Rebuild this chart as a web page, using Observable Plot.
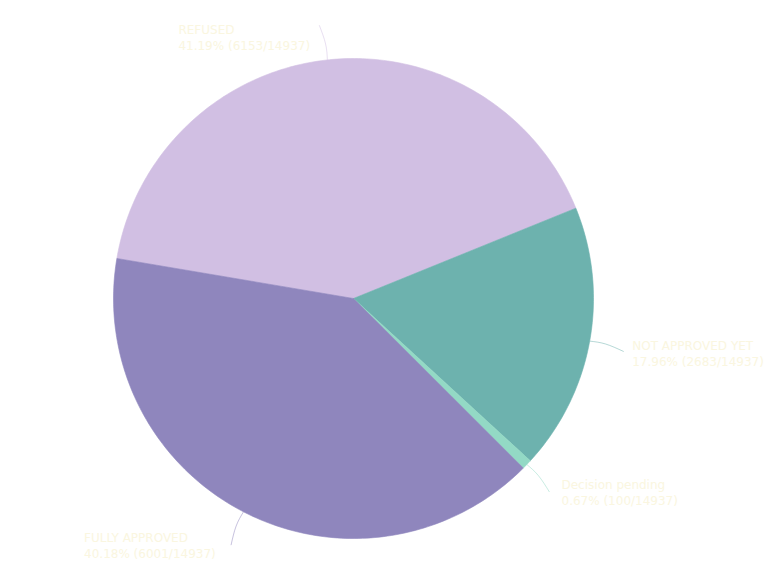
<!DOCTYPE html>
<html><head><meta charset="utf-8">
<script src="https://cdn.jsdelivr.net/npm/d3@7"></script>
<script src="https://cdn.jsdelivr.net/npm/@observablehq/plot@0.6"></script>
<style>body{margin:0;background:#fff}</style></head>
<body><div id="chart"></div>
<script>
// Data (label text is nearly invisible in the reference, so it is estimated)
const categories = ["REFUSED", "NOT APPROVED YET", "Decision pending", "FULLY APPROVED"];
const counts = [6153, 2683, 100, 6001];
const colors = ["#d1bfe3", "#6db2ae", "#93d9c5", "#8f86bd"];
const startDeg = -80.4;

const W = 768, H = 566, cx = 353, cy = 298, R = 240;
const FONT = "12px 'DejaVu Sans'";
const total = d3.sum(counts);
const a0 = startDeg * Math.PI / 180;
const arcs = d3.pie().sort(null).startAngle(a0).endAngle(a0 + 2 * Math.PI)(counts);

const slicePts = [];
arcs.forEach((a, i) => {
  const n = Math.max(2, Math.ceil((a.endAngle - a.startAngle) * 180 / Math.PI));
  slicePts.push({cat: categories[i], x: 0, y: 0});
  for (let k = 0; k <= n; k++) {
    const t = a.startAngle + (a.endAngle - a.startAngle) * k / n;
    slicePts.push({cat: categories[i], x: R * Math.sin(t), y: -R * Math.cos(t)});
  }
  slicePts.push({cat: categories[i], x: 0, y: 0});
});

const ctx = document.createElement("canvas").getContext("2d");
ctx.font = FONT;
const leaders = [], labels = [];
arcs.forEach((a, i) => {
  const m = (a.startAngle + a.endAngle) / 2;
  const s = Math.sin(m);
  const bend = s >= 0 ? 0.015 : -0.015;
  [R, R + 16, R + 35].forEach((r, k) => {
    const t = m + (k === 2 ? bend : 0);
    leaders.push({cat: categories[i], x: r * Math.sin(t), y: -r * Math.cos(t)});
  });
  const ex = (R + 30) * Math.sin(m), ey = -(R + 30) * Math.cos(m);
  const pct = (counts[i] / total * 100).toFixed(2);
  const text = categories[i] + "\n" + pct + "% (" + counts[i] + "/" + total + ")";
  const w = Math.max(...text.split("\n").map(t => ctx.measureText(t).width));
  labels.push({text, x: s >= 0 ? ex + 13 : ex - w - 14, y: ey});
});

const chart = Plot.plot({
  width: W, height: H, margin: 0,
  x: {domain: [-cx, W - cx], range: [0, W], axis: null},
  y: {domain: [-cy, H - cy], range: [0, H], axis: null},
  color: {domain: categories, range: colors},
  style: {fontFamily: "'DejaVu Sans', sans-serif", background: "#fff"},
  marks: [
    Plot.line(slicePts, {x: "x", y: "y", z: "cat", fill: "cat", stroke: "cat", strokeWidth: 0.6, curve: "linear"}),
    Plot.line(leaders, {x: "x", y: "y", z: "cat", stroke: "cat", strokeWidth: 1, strokeOpacity: 0.5, curve: "natural"}),
    Plot.text(labels, {x: "x", y: "y", text: "text", textAnchor: "start", lineAnchor: "top", dy: -8, lineHeight: 1.35, fontSize: 12, fill: "#faf6e0"})
  ]
});
document.getElementById("chart").appendChild(chart);
</script>
</body></html>
